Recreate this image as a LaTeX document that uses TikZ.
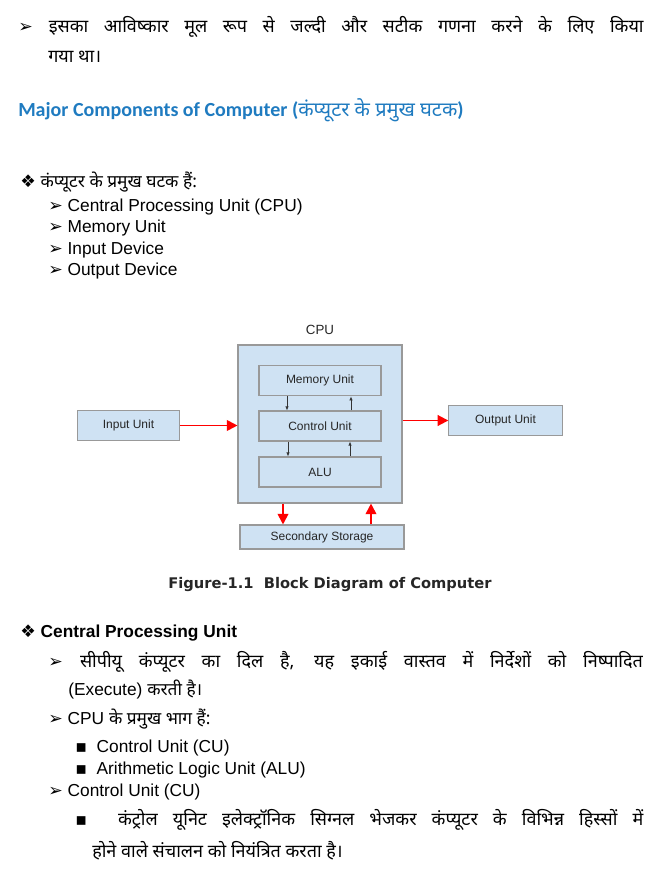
\documentclass[tikz,border=0pt]{standalone}
\usepackage{fontspec}
\setmainfont{Liberation Sans}
\newfontfamily\hin{Noto Sans}[Script=Devanagari]
\newfontfamily\sym{DejaVu Sans}
\newfontfamily\calfont{Carlito}
\newfontfamily\dvfont{DejaVu Sans}
\definecolor{boxfill}{HTML}{CFE2F3}
\definecolor{boxline}{HTML}{999999}
\definecolor{headblue}{HTML}{1F7BC0}
\usetikzlibrary{arrows.meta}
\tikzset{
 box/.style={draw=boxline,fill=boxfill,line width=0.8pt,font=\fontsize{9}{10}\selectfont\color{black!85}},
 ln/.style={anchor=west,inner sep=0pt,font=\fontsize{13}{15}\selectfont},
 hl/.style={anchor=west,inner sep=0pt,font=\hin\fontsize{13.5}{15}\selectfont},
 redarr/.style={draw=red,line width=1.4pt,-{Triangle[length=8pt,width=8pt]}},
 thinarr/.style={draw=black!80,line width=0.5pt,-{Latex[length=3pt,width=2.5pt]}}
}
\begin{document}
\begin{tikzpicture}[x=0.75pt,y=-0.75pt]
\useasboundingbox (0,0) rectangle (654,870);
% top
\node[ln] (a1) at (18,27) {\makebox[469pt][s]{{\sym\char"27A2}\ {\hin\fontsize{13.5}{15}\selectfont इसका आविष्कार मूल रूप से जल्दी और सटीक गणना करने के लिए किया}}};
\node[hl] (a2) at (48,57) {गया था।};
\node[anchor=west,inner sep=0pt,font=\calfont\bfseries\fontsize{15}{17}\selectfont,text=headblue] (h1) at (18,110) {Major Components of Computer ({\hin\bfseries कंप्यूटर के प्रमुख घटक})};
\node[ln] (b0) at (20,182) {{\sym\char"2756}\ {\hin\bfseries कंप्यूटर के प्रमुख घटक हैं:}};
\node[ln] (b1) at (48,207) {{\sym\char"27A2}\ Central Processing Unit (CPU)};
\node[ln] (b2) at (48,228) {{\sym\char"27A2}\ Memory Unit};
\node[ln] (b3) at (48,250) {{\sym\char"27A2}\ Input Device};
\node[ln] (b4) at (48,271) {{\sym\char"27A2}\ Output Device};
% diagram
\node[font=\fontsize{10}{12}\selectfont\color{black!85}] (cpul) at (320,330) {CPU};
\node[box,minimum width=123pt,minimum height=118.5pt] (cpu) at (320,424) {};
\node[box,minimum width=91.5pt,minimum height=23pt] (mem) at (320,380.5) {Memory Unit};
\node[box,minimum width=91.5pt,minimum height=22.5pt] (cu) at (320,426) {Control Unit};
\node[box,minimum width=91.5pt,minimum height=22.5pt] (alu) at (320,472) {ALU};
\node[box,minimum width=77pt,minimum height=23pt] (in) at (128.5,425.5) {Input Unit};
\node[box,minimum width=85pt,minimum height=23pt] (out) at (505.5,420.5) {Output Unit};
\node[box,minimum width=123pt,minimum height=18pt] (sec) at (322,537) {Secondary Storage};
\draw[redarr] (in.east) -- (cpu.west|-in.east);
\draw[redarr] (cpu.east|-out.west) -- (out.west);
\draw[redarr] (cpu.south-|283,0) -- (sec.north-|283,0);
\draw[redarr] (sec.north-|371,0) -- (cpu.south-|371,0);
\draw[thinarr] (mem.south-|287,0) -- (cu.north-|287,0);
\draw[thinarr] (cu.north-|351,0) -- (mem.south-|351,0);
\draw[thinarr] (cu.south-|288,0) -- (alu.north-|288,0);
\draw[thinarr] (alu.north-|350,0) -- (cu.south-|350,0);
\node[font=\dvfont\bfseries\fontsize{11}{13}\selectfont\color{black!85}] (cap) at (330,585) {Figure-1.1\ \ Block Diagram of Computer};
% bottom
\node[ln,font=\bfseries\fontsize{13}{15}\selectfont] (c0) at (20,633) {{\sym\char"2756}\ Central Processing Unit};
\node[ln] (c1) at (48,662) {\makebox[446pt][s]{{\sym\char"27A2}\ {\hin\fontsize{13.5}{15}\selectfont सीपीयू कंप्यूटर का दिल है, यह इकाई वास्तव में निर्देशों को निष्पादित}}};
\node[ln] (c2) at (68,690) {(Execute) {\hin करती है।}};
\node[ln] (c3) at (48,719) {{\sym\char"27A2}\ CPU {\hin के प्रमुख भाग हैं:}};
\node[ln] (c4) at (75,748) {{\sym\char"25AA}\ \ Control Unit (CU)};
\node[ln] (c5) at (75,770) {{\sym\char"25AA}\ \ Arithmetic Logic Unit (ALU)};
\node[ln] (c6) at (48,792) {{\sym\char"27A2}\ Control Unit (CU)};
\node[ln] (c7) at (75,820) {\makebox[426pt][s]{{\sym\char"25AA}\ \ {\hin\fontsize{13.5}{15}\selectfont कंट्रोल यूनिट इलेक्ट्रॉनिक सिग्नल भेजकर कंप्यूटर के विभिन्न हिस्सों में}}};
\node[hl] (c8) at (92,851) {होने वाले संचालन को नियंत्रित करता है।};
\end{tikzpicture}
\end{document}
